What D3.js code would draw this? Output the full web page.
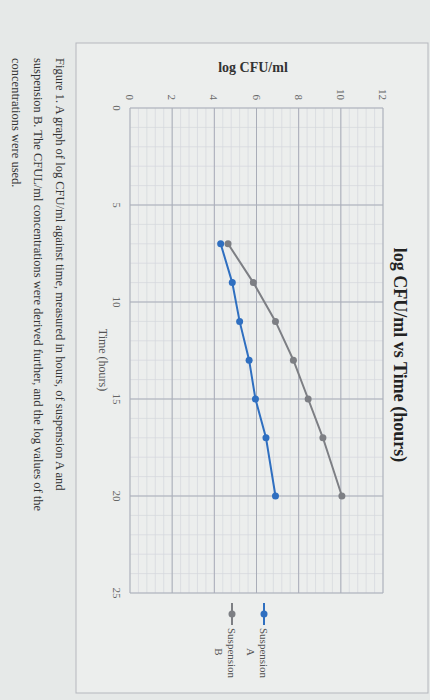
<!DOCTYPE html>
<html>
<head>
<meta charset="utf-8">
<script src="https://cdn.jsdelivr.net/npm/d3@7"></script>
<style>
  body { margin: 0; background: #e6e9e8; }
  svg { display: block; font-family: "Liberation Serif", serif; }
</style>
</head>
<body>
<svg id="chart" width="430" height="700"></svg>
<script>
// data
const hours = [7, 9, 11, 13, 15, 17, 20];
const suspensionA = [4.3, 4.85, 5.2, 5.65, 5.95, 6.45, 6.9];
const suspensionB = [4.65, 5.85, 6.9, 7.75, 8.45, 9.15, 10.05];
const timeTicks = [0, 5, 10, 15, 20, 25];
const logTicks = [0, 2, 4, 6, 8, 10, 12];
const captionLines = [
  "Figure 1. A graph of log CFU/ml against time, measured in hours, of suspension A and",
  "suspension B. The CFUL/ml concentrations were derived further, and the log values of the",
  "concentrations were used."
];

const svg = d3.select("#chart");
svg.append("rect").attr("width", 430).attr("height", 700).attr("fill", "#e6e9e8");

// the photo is turned a quarter clockwise, so draw the chart upright and rotate it
const g = svg.append("g").attr("transform", "translate(430,0) rotate(90)");

const x = d3.scaleLinear().domain([0, 25]).range([108, 593]);
const y = d3.scaleLinear().domain([0, 12]).range([300, 47]);

// chart box
g.append("rect")
  .attr("x", 43).attr("y", 2).attr("width", 650).attr("height", 352)
  .attr("fill", "#eceeed").attr("stroke", "#b5b8bd");

// minor grid
g.append("g").selectAll("line").data(d3.range(0, 25.01, 1)).join("line")
  .attr("x1", d => x(d)).attr("x2", d => x(d)).attr("y1", y(0)).attr("y2", y(12))
  .attr("stroke", "#d4d7dd").attr("stroke-width", 0.7);
g.append("g").selectAll("line").data(d3.range(0, 12.01, 0.4)).join("line")
  .attr("x1", x(0)).attr("x2", x(25)).attr("y1", d => y(d)).attr("y2", d => y(d))
  .attr("stroke", "#d4d7dd").attr("stroke-width", 0.7);

// major grid
g.append("g").selectAll("line").data(timeTicks).join("line")
  .attr("x1", d => x(d)).attr("x2", d => x(d)).attr("y1", y(0)).attr("y2", y(12))
  .attr("stroke", "#a9adb8");
g.append("g").selectAll("line").data(logTicks).join("line")
  .attr("x1", x(0)).attr("x2", x(25)).attr("y1", d => y(d)).attr("y2", d => y(d))
  .attr("stroke", "#a9adb8");

// tick labels
g.append("g").selectAll("text").data(logTicks).join("text")
  .attr("x", x(0) - 8).attr("y", d => y(d) + 4)
  .attr("text-anchor", "end").attr("font-size", 11).attr("fill", "#666")
  .text(d => d);
g.append("g").selectAll("text").data(timeTicks).join("text")
  .attr("x", d => x(d)).attr("y", y(0) + 17)
  .attr("text-anchor", "middle").attr("font-size", 11).attr("fill", "#666")
  .text(d => d);

g.append("text").attr("x", 360).attr("y", 331).attr("text-anchor", "middle")
  .attr("font-size", 12).attr("fill", "#555").text("Time (hours)");
g.append("text").attr("transform", "translate(72,177) rotate(-90)")
  .attr("text-anchor", "middle").attr("font-size", 14).attr("font-weight", "bold")
  .attr("fill", "#333").text("log CFU/ml");
g.append("text").attr("x", 355).attr("y", 36).attr("text-anchor", "middle")
  .attr("font-size", 18).attr("font-weight", "bold").attr("fill", "#222")
  .text("log CFU/ml vs Time (hours)");

// series
const series = [
  { name: "Suspension", sub: "A", values: suspensionA, color: "#2f6fc0" },
  { name: "Suspension", sub: "B", values: suspensionB, color: "#7d7f84" }
];
const line = d3.line().x(d => x(d[0])).y(d => y(d[1]));
series.forEach(s => {
  const pts = hours.map((h, i) => [h, s.values[i]]);
  g.append("path").attr("d", line(pts)).attr("fill", "none")
    .attr("stroke", s.color).attr("stroke-width", 2);
  g.append("g").selectAll("circle").data(pts).join("circle")
    .attr("cx", d => x(d[0])).attr("cy", d => y(d[1])).attr("r", 3.5)
    .attr("fill", s.color);
});

// legend
series.forEach((s, i) => {
  const ly = 166 + i * 32;
  g.append("line").attr("x1", 603).attr("x2", 625).attr("y1", ly).attr("y2", ly)
    .attr("stroke", s.color).attr("stroke-width", 2);
  g.append("circle").attr("cx", 614).attr("cy", ly).attr("r", 3.5).attr("fill", s.color);
  g.append("text").attr("x", 628).attr("y", ly + 4).attr("font-size", 11)
    .attr("fill", "#555").text(s.name);
  g.append("text").attr("x", 652).attr("y", ly + 17).attr("text-anchor", "middle")
    .attr("font-size", 11).attr("fill", "#555").text(s.sub);
});

// caption
g.append("g").selectAll("text").data(captionLines).join("text")
  .attr("x", 58).attr("y", (d, i) => 374 + i * 22)
  .attr("font-size", 12.5).attr("fill", "#333")
  .text(d => d);
</script>
</body>
</html>
